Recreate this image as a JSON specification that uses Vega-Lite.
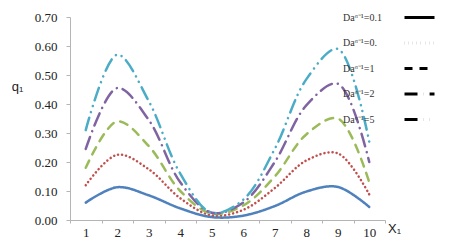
{
  "$schema": "https://vega.github.io/schema/vega-lite/v6.json",
  "width": 315,
  "height": 203,
  "autosize": "none",
  "padding": {"left": 70, "top": 17, "right": 89, "bottom": 26},
  "background": "white",
  "config": {"view": {"stroke": null}, "font": "Liberation Serif"},
  "data": {
    "values": [
      {"x": 1, "k": "a", "s": "Daᵅ⁻¹=0.1", "q": 0.06},
      {"x": 2, "k": "a", "s": "Daᵅ⁻¹=0.1", "q": 0.113},
      {"x": 3, "k": "a", "s": "Daᵅ⁻¹=0.1", "q": 0.085},
      {"x": 4, "k": "a", "s": "Daᵅ⁻¹=0.1", "q": 0.04},
      {"x": 5, "k": "a", "s": "Daᵅ⁻¹=0.1", "q": 0.01},
      {"x": 6, "k": "a", "s": "Daᵅ⁻¹=0.1", "q": 0.015},
      {"x": 7, "k": "a", "s": "Daᵅ⁻¹=0.1", "q": 0.048},
      {"x": 8, "k": "a", "s": "Daᵅ⁻¹=0.1", "q": 0.098},
      {"x": 9, "k": "a", "s": "Daᵅ⁻¹=0.1", "q": 0.114},
      {"x": 10, "k": "a", "s": "Daᵅ⁻¹=0.1", "q": 0.045},
      {"x": 1, "k": "b", "s": "Daᵅ⁻¹=0.", "q": 0.12},
      {"x": 2, "k": "b", "s": "Daᵅ⁻¹=0.", "q": 0.225},
      {"x": 3, "k": "b", "s": "Daᵅ⁻¹=0.", "q": 0.175},
      {"x": 4, "k": "b", "s": "Daᵅ⁻¹=0.", "q": 0.075},
      {"x": 5, "k": "b", "s": "Daᵅ⁻¹=0.", "q": 0.016},
      {"x": 6, "k": "b", "s": "Daᵅ⁻¹=0.", "q": 0.035},
      {"x": 7, "k": "b", "s": "Daᵅ⁻¹=0.", "q": 0.11},
      {"x": 8, "k": "b", "s": "Daᵅ⁻¹=0.", "q": 0.205},
      {"x": 9, "k": "b", "s": "Daᵅ⁻¹=0.", "q": 0.23},
      {"x": 10, "k": "b", "s": "Daᵅ⁻¹=0.", "q": 0.088},
      {"x": 1, "k": "c", "s": "Daᵅ⁻¹=1", "q": 0.18},
      {"x": 2, "k": "c", "s": "Daᵅ⁻¹=1", "q": 0.34},
      {"x": 3, "k": "c", "s": "Daᵅ⁻¹=1", "q": 0.255},
      {"x": 4, "k": "c", "s": "Daᵅ⁻¹=1", "q": 0.1},
      {"x": 5, "k": "c", "s": "Daᵅ⁻¹=1", "q": 0.022},
      {"x": 6, "k": "c", "s": "Daᵅ⁻¹=1", "q": 0.05},
      {"x": 7, "k": "c", "s": "Daᵅ⁻¹=1", "q": 0.15},
      {"x": 8, "k": "c", "s": "Daᵅ⁻¹=1", "q": 0.295},
      {"x": 9, "k": "c", "s": "Daᵅ⁻¹=1", "q": 0.35},
      {"x": 10, "k": "c", "s": "Daᵅ⁻¹=1", "q": 0.13},
      {"x": 1, "k": "d", "s": "Daᵅ⁻¹=2", "q": 0.245},
      {"x": 2, "k": "d", "s": "Daᵅ⁻¹=2", "q": 0.455},
      {"x": 3, "k": "d", "s": "Daᵅ⁻¹=2", "q": 0.345},
      {"x": 4, "k": "d", "s": "Daᵅ⁻¹=2", "q": 0.13},
      {"x": 5, "k": "d", "s": "Daᵅ⁻¹=2", "q": 0.025},
      {"x": 6, "k": "d", "s": "Daᵅ⁻¹=2", "q": 0.06},
      {"x": 7, "k": "d", "s": "Daᵅ⁻¹=2", "q": 0.2},
      {"x": 8, "k": "d", "s": "Daᵅ⁻¹=2", "q": 0.395},
      {"x": 9, "k": "d", "s": "Daᵅ⁻¹=2", "q": 0.47},
      {"x": 10, "k": "d", "s": "Daᵅ⁻¹=2", "q": 0.2},
      {"x": 1, "k": "e", "s": "Daᵅ⁻¹=5", "q": 0.31},
      {"x": 2, "k": "e", "s": "Daᵅ⁻¹=5", "q": 0.57},
      {"x": 3, "k": "e", "s": "Daᵅ⁻¹=5", "q": 0.41},
      {"x": 4, "k": "e", "s": "Daᵅ⁻¹=5", "q": 0.16},
      {"x": 5, "k": "e", "s": "Daᵅ⁻¹=5", "q": 0.025},
      {"x": 6, "k": "e", "s": "Daᵅ⁻¹=5", "q": 0.07},
      {"x": 7, "k": "e", "s": "Daᵅ⁻¹=5", "q": 0.245},
      {"x": 8, "k": "e", "s": "Daᵅ⁻¹=5", "q": 0.485},
      {"x": 9, "k": "e", "s": "Daᵅ⁻¹=5", "q": 0.59},
      {"x": 10, "k": "e", "s": "Daᵅ⁻¹=5", "q": 0.27}
    ]
  },
  "mark": {"type": "line", "interpolate": "catmull-rom", "strokeWidth": 2.5, "strokeCap": "round"},
  "encoding": {
    "x": {
      "field": "x",
      "type": "ordinal",
      "bandPosition": 0.5,
      "scale": {"type": "band", "paddingInner": 0, "paddingOuter": 0},
      "axis": {
        "title": "X₁",
        "labelAngle": 0,
        "tickBand": "extent",
        "tickSize": 3,
        "labelPadding": 3,
        "domainColor": "#b5b5b5",
        "tickColor": "#b5b5b5",
        "labelFont": "Liberation Serif",
        "labelFontSize": 13,
        "labelColor": "#222222",
        "titleFont": "Liberation Sans",
        "titleFontSize": 13,
        "titleFontWeight": "normal",
        "titleColor": "#222222",
        "titleX": 324,
        "titleY": 8,
        "titleAlign": "center",
        "titleBaseline": "middle",
        "grid": false
      }
    },
    "y": {
      "field": "q",
      "type": "quantitative",
      "scale": {"domain": [0, 0.7]},
      "axis": {
        "values": [0, 0.1, 0.2, 0.3, 0.4, 0.5, 0.6, 0.7],
        "format": ".2f",
        "title": "q₁",
        "titleAngle": 0,
        "titleX": -53,
        "titleY": 69,
        "titleAlign": "center",
        "titleBaseline": "middle",
        "titleFont": "Liberation Sans",
        "titleFontSize": 13,
        "titleFontWeight": "normal",
        "titleColor": "#222222",
        "tickSize": 4,
        "labelPadding": 9,
        "domainColor": "#b5b5b5",
        "tickColor": "#b5b5b5",
        "labelFont": "Liberation Serif",
        "labelFontSize": 13,
        "labelColor": "#222222",
        "grid": false
      }
    },
    "color": {
      "field": "k",
      "type": "nominal",
      "scale": {
        "domain": ["a", "b", "c", "d", "e"],
        "range": ["#4F81BD", "#C0504D", "#9BBB59", "#8064A2", "#4BACC6"]
      },
      "legend": null
    },
    "strokeDash": {
      "field": "s",
      "type": "nominal",
      "scale": {
        "domain": ["Daᵅ⁻¹=0.1", "Daᵅ⁻¹=0.", "Daᵅ⁻¹=1", "Daᵅ⁻¹=2", "Daᵅ⁻¹=5"],
        "range": [[1, 0], [0.1, 4], [8, 7], [13, 6, 0.1, 6], [13, 6, 0.1, 6, 0.1, 6]]
      },
      "legend": {
        "title": null,
        "orient": "none",
        "legendX": 293,
        "legendY": -16,
        "symbolType": "stroke",
        "symbolSize": 900,
        "symbolStrokeWidth": 3,
        "symbolStrokeColor": "black",
        "labelFont": "Liberation Serif",
        "labelFontSize": 10,
        "labelColor": "#333333",
        "labelOffset": -93,
        "symbolOffset": 40,
        "rowPadding": 2.5,
        "padding": 0,
        "encode": {"symbols": {"update": {"stroke": {"value": "black"}}}}
      }
    }
  }
}
